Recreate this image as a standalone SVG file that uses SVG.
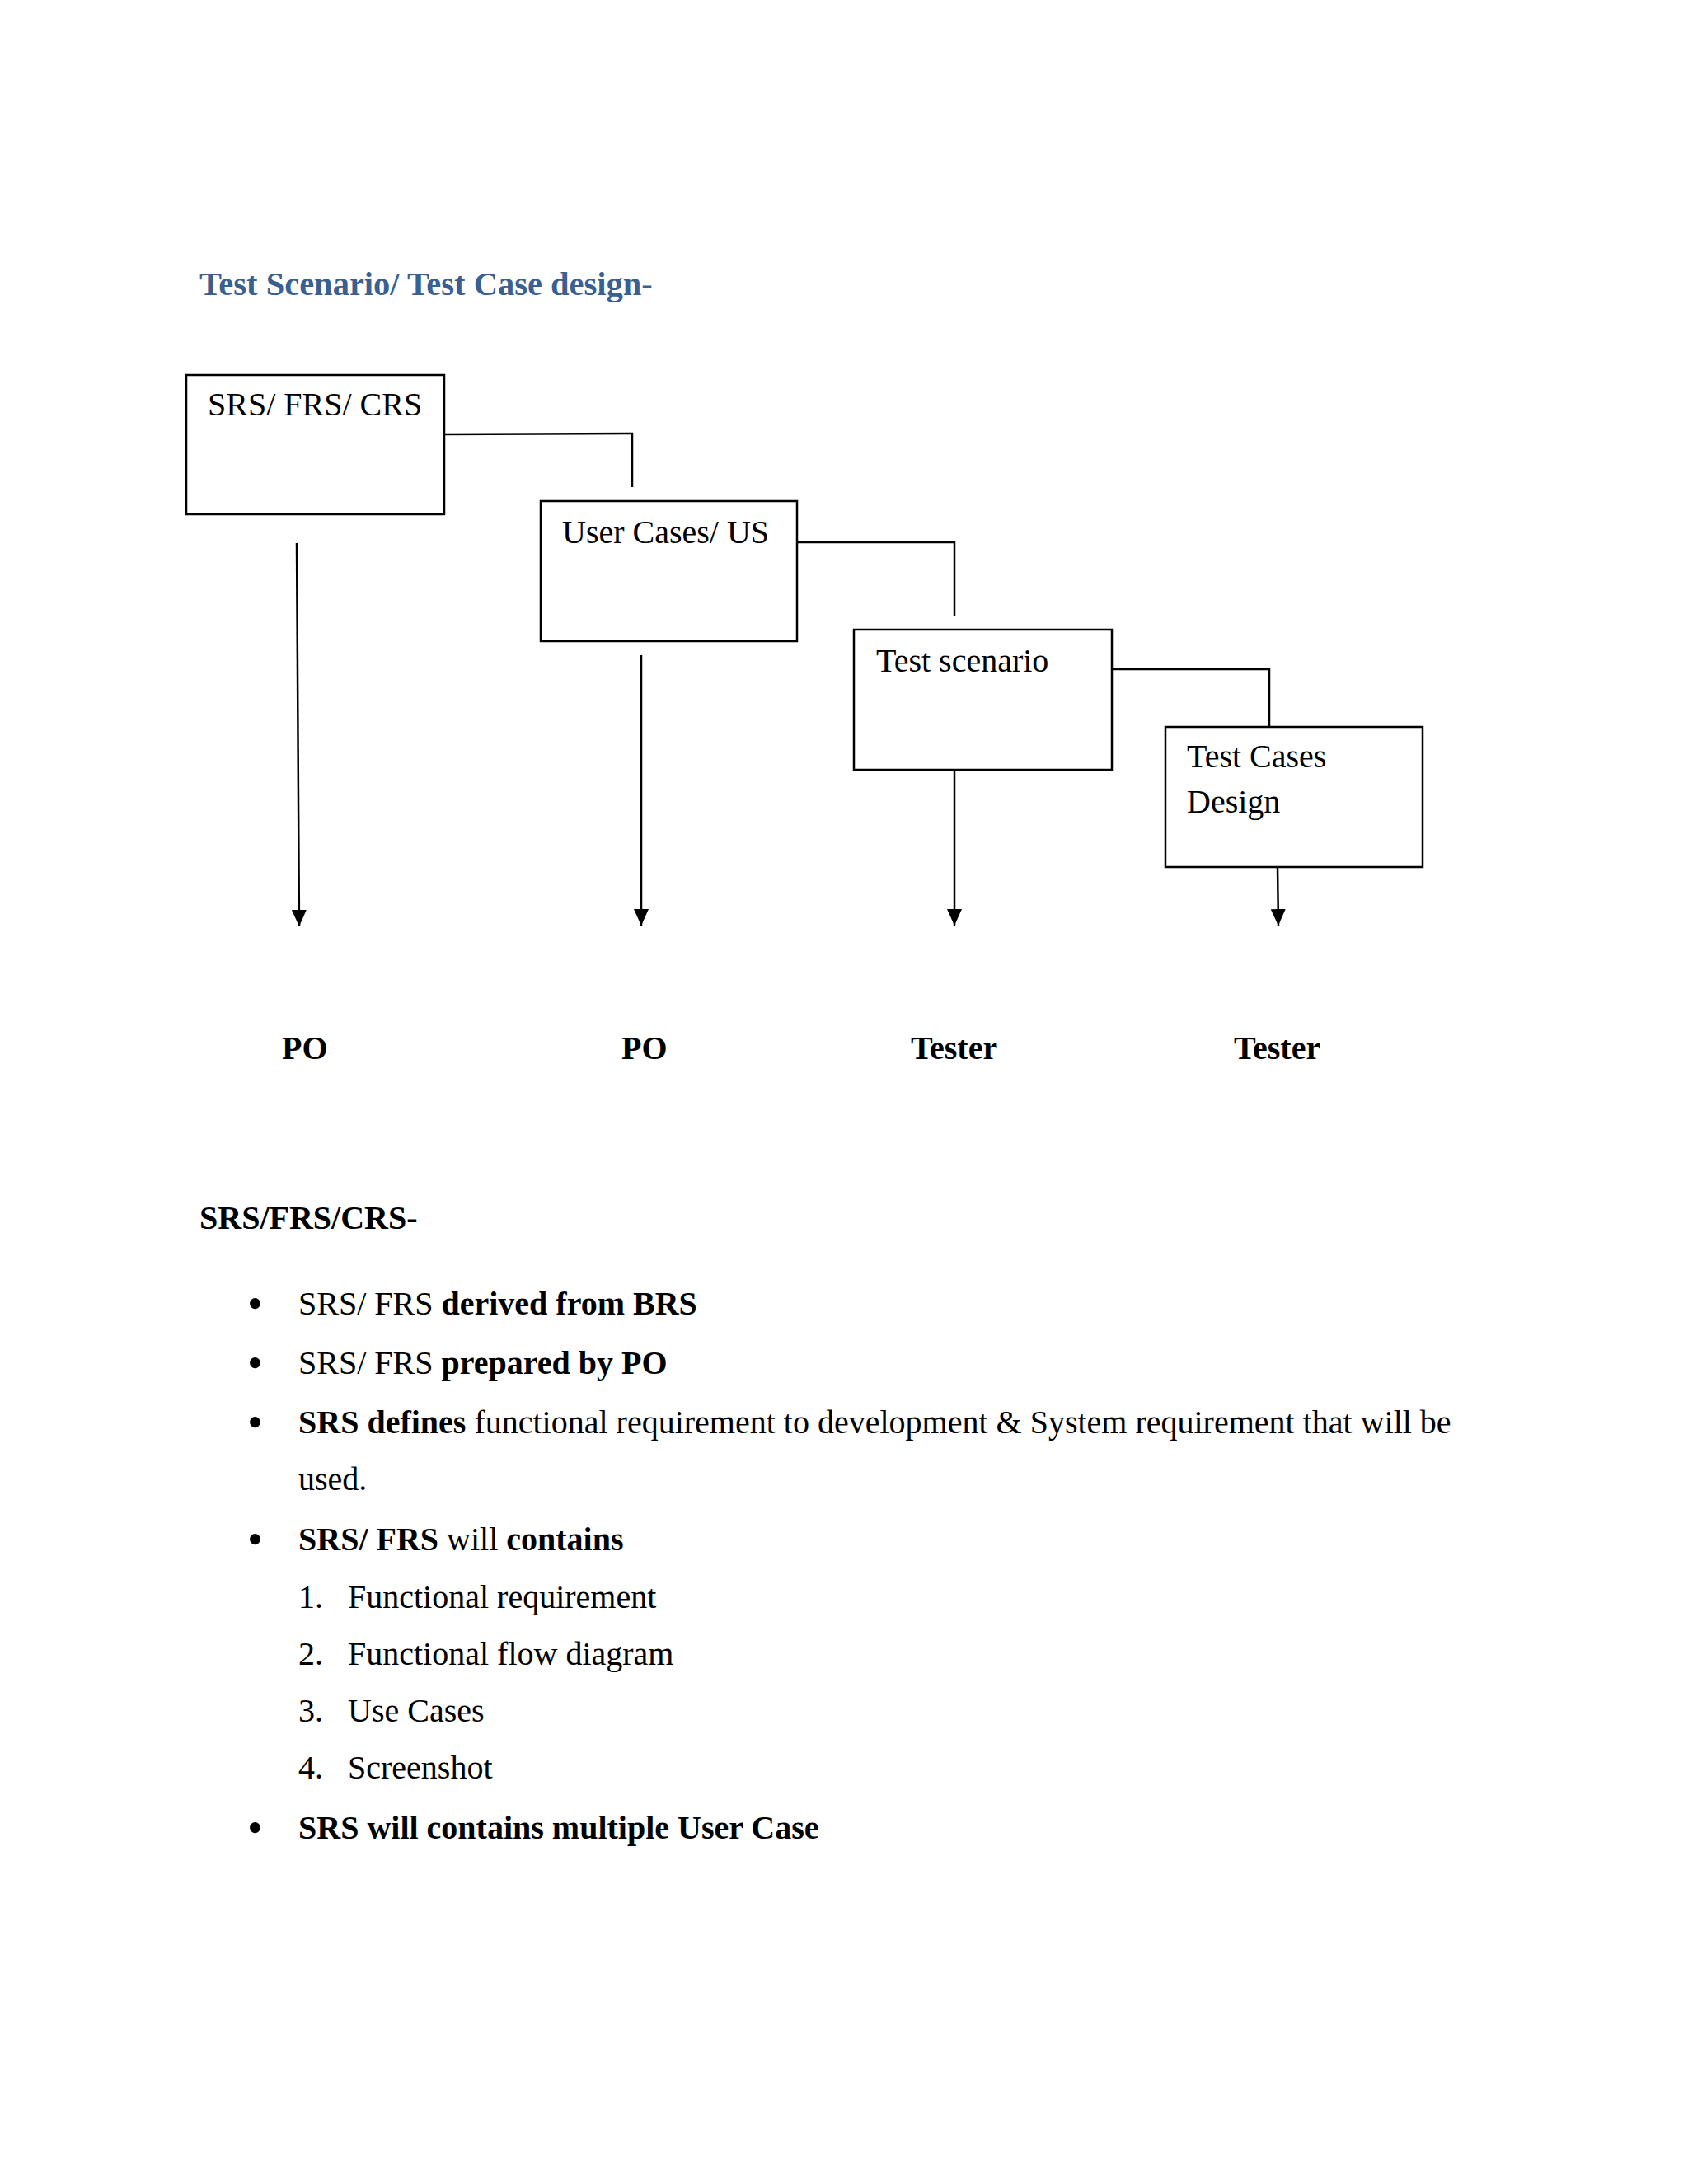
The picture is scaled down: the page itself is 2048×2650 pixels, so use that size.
<svg xmlns="http://www.w3.org/2000/svg" width="2048" height="2650" viewBox="0 0 2048 2650">
<style>
text{font-family:"Liberation Serif","Times New Roman",serif;font-size:40px;fill:#000}
.b{font-weight:bold}
.title{font-weight:bold;fill:#3A5F92;font-size:40.5px}
.box{fill:#fff;stroke:#000;stroke-width:2.5}
.ln{fill:none;stroke:#000;stroke-width:2.5}
.bul{font-size:54px}
</style>
<defs>
<marker id="ah" markerUnits="userSpaceOnUse" markerWidth="22" markerHeight="20" refX="20" refY="9" orient="auto">
<path d="M0,0 L20,9 L0,18 z" fill="#000"/>
</marker>
</defs>
<rect width="2048" height="2650" fill="#fff"/>
<text class="title" x="242" y="358">Test Scenario/ Test Case design-</text>
<g id="connectors">
<polyline class="ln" points="539,527 767,526 767,591"/>
<polyline class="ln" points="967,658 1158,658 1158,747"/>
<polyline class="ln" points="1349,812 1540,812 1540,882"/>
<line class="ln" x1="360" y1="659" x2="363" y2="1124" marker-end="url(#ah)"/>
<line class="ln" x1="778" y1="795" x2="778" y2="1123" marker-end="url(#ah)"/>
<line class="ln" x1="1158" y1="934" x2="1158" y2="1123" marker-end="url(#ah)"/>
<line class="ln" x1="1550" y1="1052" x2="1551" y2="1123" marker-end="url(#ah)"/>
</g>
<g id="node-srs">
<rect class="box" x="226" y="455" width="313" height="169"/>
<text x="252" y="504">SRS/ FRS/ CRS</text>
</g>
<g id="node-usercases">
<rect class="box" x="656" y="608" width="311" height="170"/>
<text x="682" y="659">User Cases/ US</text>
</g>
<g id="node-testscenario">
<rect class="box" x="1036" y="764" width="313" height="170"/>
<text x="1063" y="815">Test scenario</text>
</g>
<g id="node-testcases">
<rect class="box" x="1414" y="882" width="312" height="170"/>
<text x="1440" y="931">Test Cases</text>
<text x="1440" y="986">Design</text>
</g>
<g id="labels">
<text class="b" x="342" y="1285">PO</text>
<text class="b" x="754" y="1285">PO</text>
<text class="b" x="1105" y="1285">Tester</text>
<text class="b" x="1497" y="1285">Tester</text>
</g>
<g id="notes">
<text class="b" x="242" y="1491">SRS/FRS/CRS-</text>
<text class="bul" x="300" y="1600">•</text>
<text x="362" y="1595">SRS/ FRS <tspan class="b">derived from BRS</tspan></text>
<text class="bul" x="300" y="1672">•</text>
<text x="362" y="1667">SRS/ FRS <tspan class="b">prepared by PO</tspan></text>
<text class="bul" x="300" y="1744">•</text>
<text x="362" y="1739"><tspan class="b">SRS defines</tspan> functional requirement to development &amp; System requirement that will be</text>
<text x="362" y="1808">used.</text>
<text class="bul" x="300" y="1886">•</text>
<text x="362" y="1881"><tspan class="b">SRS/ FRS</tspan> will <tspan class="b">contains</tspan></text>
<text x="362" y="1951">1.</text>
<text x="422" y="1951">Functional requirement</text>
<text x="362" y="2020">2.</text>
<text x="422" y="2020">Functional flow diagram</text>
<text x="362" y="2089">3.</text>
<text x="422" y="2089">Use Cases</text>
<text x="362" y="2158">4.</text>
<text x="422" y="2158">Screenshot</text>
<text class="bul" x="300" y="2236">•</text>
<text class="b" x="362" y="2231">SRS will contains multiple User Case</text>
</g>
</svg>
